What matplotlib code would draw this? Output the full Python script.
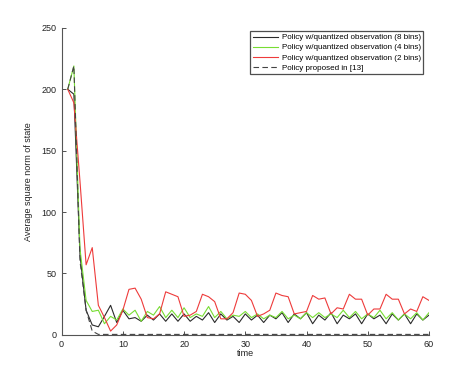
import numpy as np
import matplotlib.pyplot as plt

plt.rcParams['font.family'] = ['Liberation Sans', 'DejaVu Sans']

t = np.arange(1, 61)

bins8 = [200, 196, 65, 20, 8, 6.5, 15, 24, 10, 20,
         13, 14, 11, 16, 12, 17, 11, 17, 11, 17,
         11, 15, 12, 18, 10, 17, 12, 15, 10, 17,
         12, 16, 10, 16, 13, 18, 10, 17, 13, 18,
         9, 16, 12, 18, 9, 16, 13, 17, 9, 17,
         13, 16, 9, 17, 12, 17, 9, 17, 12, 16]

bins4 = [200, 219, 70, 28, 19, 20, 9, 15, 12, 21,
         16, 20, 11, 19, 16, 23, 14, 20, 14, 22,
         14, 17, 15, 23, 14, 19, 13, 16, 15, 19,
         14, 17, 13, 16, 14, 19, 13, 16, 13, 18,
         14, 18, 14, 17, 14, 20, 14, 19, 13, 17,
         14, 20, 13, 18, 12, 17, 13, 18, 12, 18]

bins2 = [200, 189, 125, 57, 71, 24, 14, 3, 8, 20,
         37, 38, 29, 14, 13, 17, 35, 33, 31, 15,
         16, 19, 33, 31, 27, 13, 13, 18, 34, 33,
         28, 15, 17, 20, 34, 32, 31, 17, 18, 19,
         32, 29, 30, 17, 22, 21, 33, 29, 29, 16,
         21, 21, 33, 29, 29, 17, 21, 19, 31, 28]

ref13 = [200, 219, 60, 20, 3] + [0.3] * 55

labels = ['Policy w/quantized observation (8 bins)',
          'Policy w/quantized observation (4 bins)',
          'Policy w/quantized observation (2 bins)',
          'Policy proposed in [13]']

fig = plt.figure(figsize=(4.74, 3.77), dpi=100)
ax = fig.add_axes([0.130, 0.112, 0.775, 0.814])

ax.plot(t, bins8, color='#2b2b2b', lw=0.8, label=labels[0])
ax.plot(t, bins4, color='#77dd33', lw=0.8, label=labels[1])
ax.plot(t, bins2, color='#ee3b3b', lw=0.8, label=labels[2])
ax.plot(t, ref13, color='#444444', lw=0.8, ls=(0, (5, 3)), label=labels[3])

ax.set_xlim(0, 60)
ax.set_ylim(0, 250)
ax.set_xticks(range(0, 61, 10))
ax.set_yticks(range(0, 251, 50))
ax.spines['top'].set_visible(False)
ax.spines['right'].set_visible(False)
for s in ['left', 'bottom']:
    ax.spines[s].set_color('#555555')
    ax.spines[s].set_linewidth(0.8)
ax.tick_params(direction='in', length=3, width=0.6, labelsize=6.5,
               colors='#333333', labelcolor='#222222')
ax.set_xlabel('time', fontsize=6.5, labelpad=0, color='#222222')
ax.set_ylabel('Average square norm of state', fontsize=6.5, labelpad=6,
              color='#222222')

leg = ax.legend(loc='upper right', bbox_to_anchor=(0.985, 0.99),
                fontsize=5.8, frameon=True, fancybox=False,
                handlelength=3.2, labelspacing=0.3, borderpad=0.35,
                handletextpad=0.4, borderaxespad=0)
leg.get_frame().set_edgecolor('#222222')
leg.get_frame().set_linewidth(0.9)

fig.savefig('out.png', dpi=100)
